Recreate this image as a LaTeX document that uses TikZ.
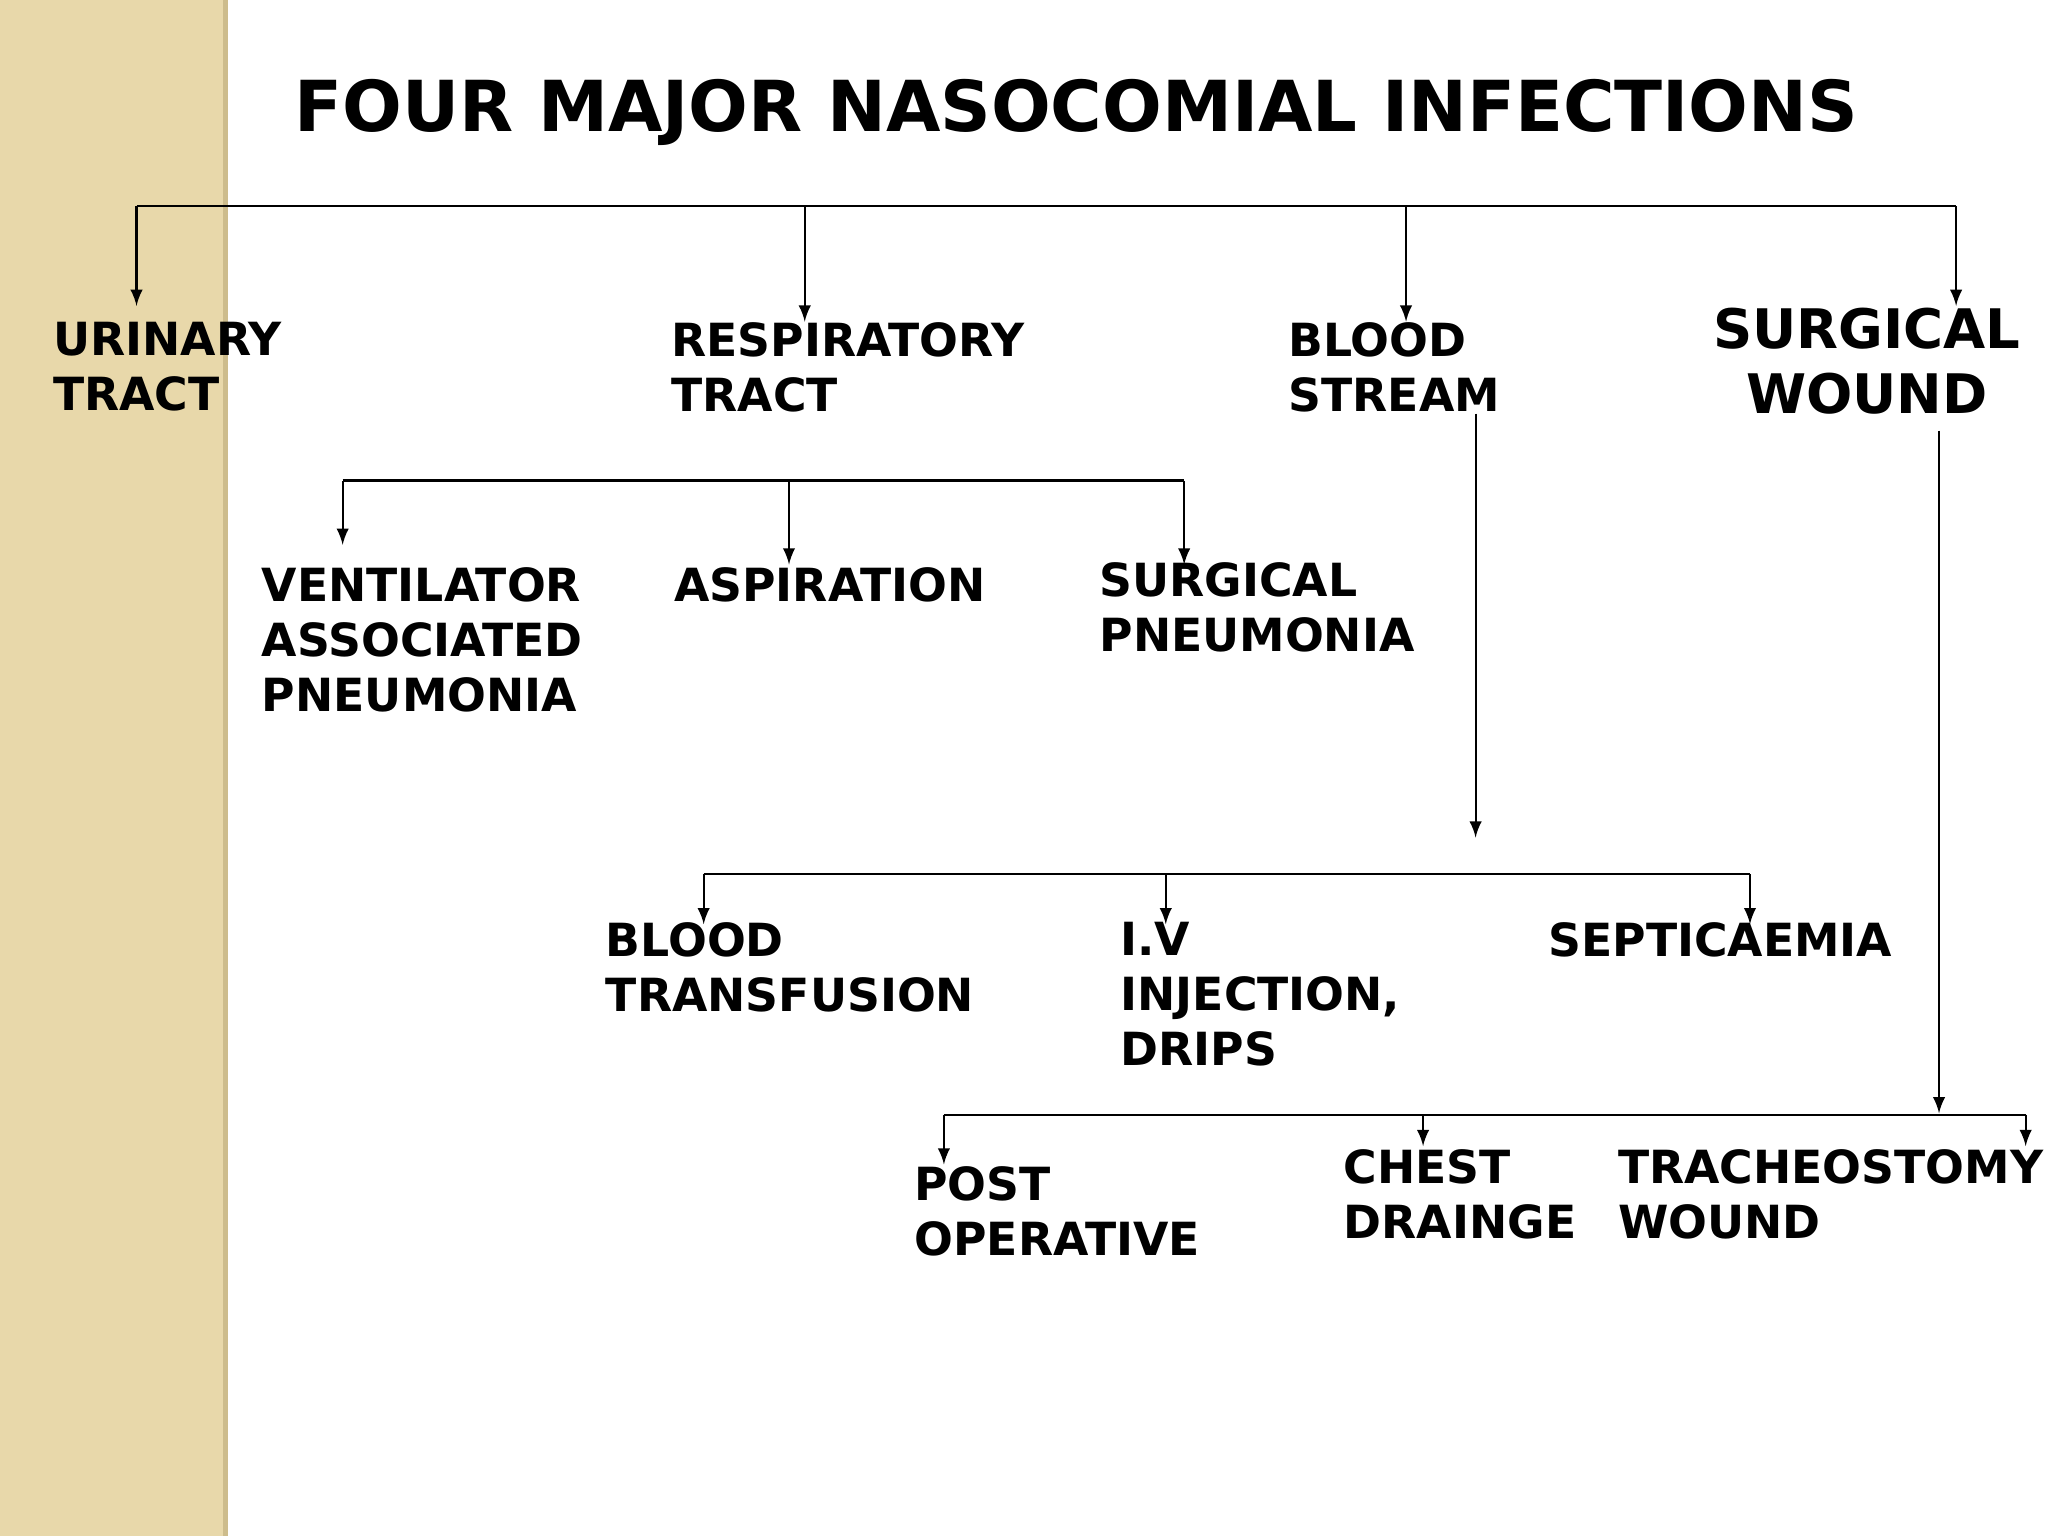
\documentclass[tikz,border=0pt]{standalone}
\usepackage{fontspec}
\setmainfont{DejaVu Sans}
\usetikzlibrary{positioning}
\definecolor{strip}{RGB}{232,216,170}
\definecolor{stripedge}{RGB}{205,188,140}
\begin{document}
\begin{tikzpicture}[x=0.013128cm,y=-0.013128cm,
    label/.style={anchor=north west,inner sep=0pt,align=left,font=\fontsize{13}{15.6}\selectfont\bfseries},
    arr/.style={-latex,line width=0.6pt}]
\useasboundingbox (0,0) rectangle (1560,1170);
\fill[strip] (0,0) rectangle (172,1170);
\draw[stripedge,line width=1.5pt] (172,0) -- (172,1170);
\node[anchor=north,inner sep=0pt,font=\fontsize{20}{24}\selectfont\bfseries] (title) at (820,60) {FOUR MAJOR NASOCOMIAL INFECTIONS};
% main categories
\node[label] (uti) at (40,245) {URINARY\\TRACT};
\node[label] (resp) at (511,245) {RESPIRATORY\\TRACT};
\node[label] (blood) at (981,245) {BLOOD\\STREAM};
\node[label,anchor=north,align=center,font=\fontsize{15.5}{18.5}\selectfont\bfseries] (wound) at (1422,234) {SURGICAL\\WOUND};
% respiratory
\node[label] (vap) at (199,432) {VENTILATOR\\ASSOCIATED\\PNEUMONIA};
\node[label] (asp) at (513,432) {ASPIRATION};
\node[label] (spn) at (837,428) {SURGICAL\\PNEUMONIA};
% blood stream
\node[label] (trans) at (461,702) {BLOOD\\TRANSFUSION};
\node[label] (iv) at (853,702) {I.V\\INJECTION,\\DRIPS};
\node[label] (sept) at (1179,702) {SEPTICAEMIA};
% surgical wound
\node[label] (post) at (696,888) {POST\\OPERATIVE};
\node[label] (chest) at (1023,875) {CHEST\\DRAINGE};
\node[label] (trach) at (1232,875) {TRACHEOSTOMY\\WOUND};
% bars
\draw[line width=0.6pt] (104,157) -- (1490,157);
\foreach \x/\y in {104/233,613/245,1071/245,1490/233}
  \draw[arr] (\x,157) -- (\x,\y);
\draw[line width=0.6pt] (261,366) -- (902,366);
\foreach \x/\y in {261/415,601/430,902/430}
  \draw[arr] (\x,366) -- (\x,\y);
\draw[arr] (1124,315) -- (1124,638);
\draw[line width=0.6pt] (536,666) -- (1333,666);
\foreach \x in {536,888,1333}
  \draw[arr] (\x,666) -- (\x,704);
\draw[arr] (1477,328) -- (1477,848);
\draw[line width=0.6pt] (719,849) -- (1543,849);
\foreach \x/\y in {719/887,1084/873,1543/873}
  \draw[arr] (\x,849) -- (\x,\y);
\end{tikzpicture}
\end{document}
